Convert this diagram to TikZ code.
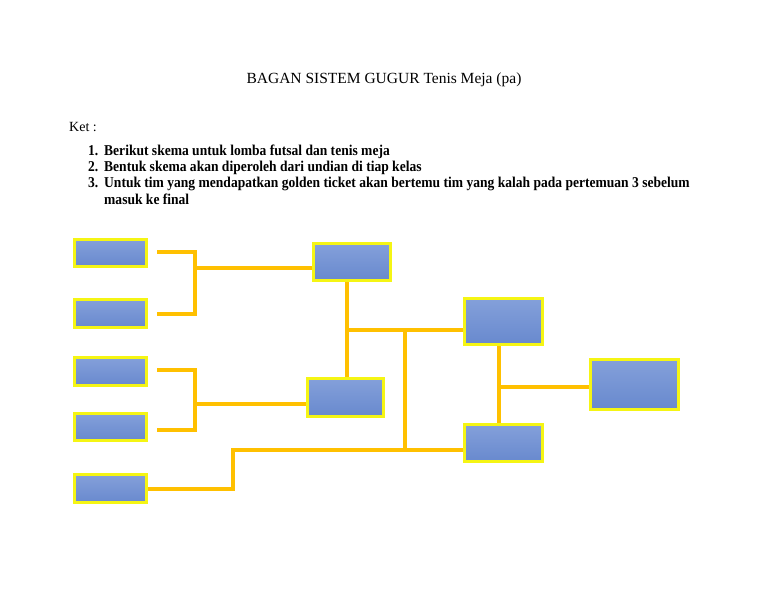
\documentclass[tikz,border=0pt]{standalone}
\usepackage{fontspec}
\setmainfont{Liberation Serif}
\newfontfamily\condserif[FakeStretch=0.903]{Liberation Serif}
\usetikzlibrary{calc}
\definecolor{conncol}{RGB}{255,192,0}
\definecolor{boxborder}{RGB}{245,245,20}
\definecolor{boxtop}{RGB}{132,160,218}
\definecolor{boxbot}{RGB}{104,137,206}
\tikzset{
  teambox/.style={rectangle, draw=boxborder, line width=3pt, inner sep=0pt,
    top color=boxtop, bottom color=boxbot},
  conn/.style={draw=conncol, line width=4pt},
  itemtext/.style={anchor=base west, inner sep=0pt, font=\fontsize{15}{18}\selectfont\condserif\bfseries},
}
\begin{document}
\begin{tikzpicture}[x=1pt,y=-1pt]
\useasboundingbox[fill=white] (0,0) rectangle (768,594);
% texts
\node[anchor=base, inner sep=0pt, font=\fontsize{15.5}{18}\selectfont] (title) at (384,83) {BAGAN SISTEM GUGUR Tenis Meja (pa)};
\node[anchor=base west, inner sep=0pt, font=\fontsize{14}{17}\selectfont] (ket) at (69,131.5) {Ket :};
\node[itemtext] (n1) at (88,155.5) {1.};
\node[itemtext] (n2) at (88,171.5) {2.};
\node[itemtext] (n3) at (88,187.5) {3.};
\node[itemtext] (t1) at (104,155.5) {Berikut skema untuk lomba futsal dan tenis meja};
\node[itemtext] (t2) at (104,171.5) {Bentuk skema akan diperoleh dari undian di tiap kelas};
\node[itemtext] (t3) at (104,187.5) {Untuk tim yang mendapatkan golden ticket akan bertemu tim yang kalah pada pertemuan 3 sebelum};
\node[itemtext] (t4) at (104,204) {masuk ke final};
% boxes
\node[teambox, minimum width=72pt, minimum height=27pt] (l1) at (110.5,253) {};
\node[teambox, minimum width=72pt, minimum height=28pt] (l2) at (110.5,313.5) {};
\node[teambox, minimum width=72pt, minimum height=28pt] (l3) at (110.5,371.5) {};
\node[teambox, minimum width=72pt, minimum height=27pt] (l4) at (110.5,427) {};
\node[teambox, minimum width=72pt, minimum height=28pt] (l5) at (110.5,488.5) {};
\node[teambox, minimum width=77pt, minimum height=37pt] (m1) at (352,262) {};
\node[teambox, minimum width=76pt, minimum height=38pt] (m2) at (345.5,397.5) {};
\node[teambox, minimum width=78pt, minimum height=46pt] (r1) at (503.5,321.5) {};
\node[teambox, minimum width=78pt, minimum height=37pt] (r2) at (503.5,443) {};
\node[teambox, minimum width=88pt, minimum height=50pt] (f) at (634.5,384.5) {};
% junctions
\coordinate (j1) at (195,268);
\coordinate (j2) at (195,404);
\coordinate (k1) at (233,450);
\coordinate (c1) at (347,330);
\coordinate (c2) at (405,330);
\coordinate (k2) at (405,450);
\coordinate (c3) at (499,386.5);
% connectors
\draw[conn] ($(l1.east)+(9,-1)$) -| (j1) |- ($(l2.east)+(9,0)$);
\draw[conn] (j1) -- (m1.west |- j1);
\draw[conn] ($(l3.east)+(9,-2)$) -| (j2) |- ($(l4.east)+(9,3)$);
\draw[conn] (j2) -- (m2.west |- j2);
\draw[conn] (l5.east) -| (k1) -- (r2.west |- k1);
\draw[conn] (c1 |- m1.south) -- (c1 |- m2.north);
\draw[conn] (c1) -- (r1.west |- c1);
\draw[conn] (c2) -- (k2);
\draw[conn] (c3 |- r1.south) -- (c3 |- r2.north);
\draw[conn] (c3) -- (f.west |- c3);
\end{tikzpicture}
\end{document}
